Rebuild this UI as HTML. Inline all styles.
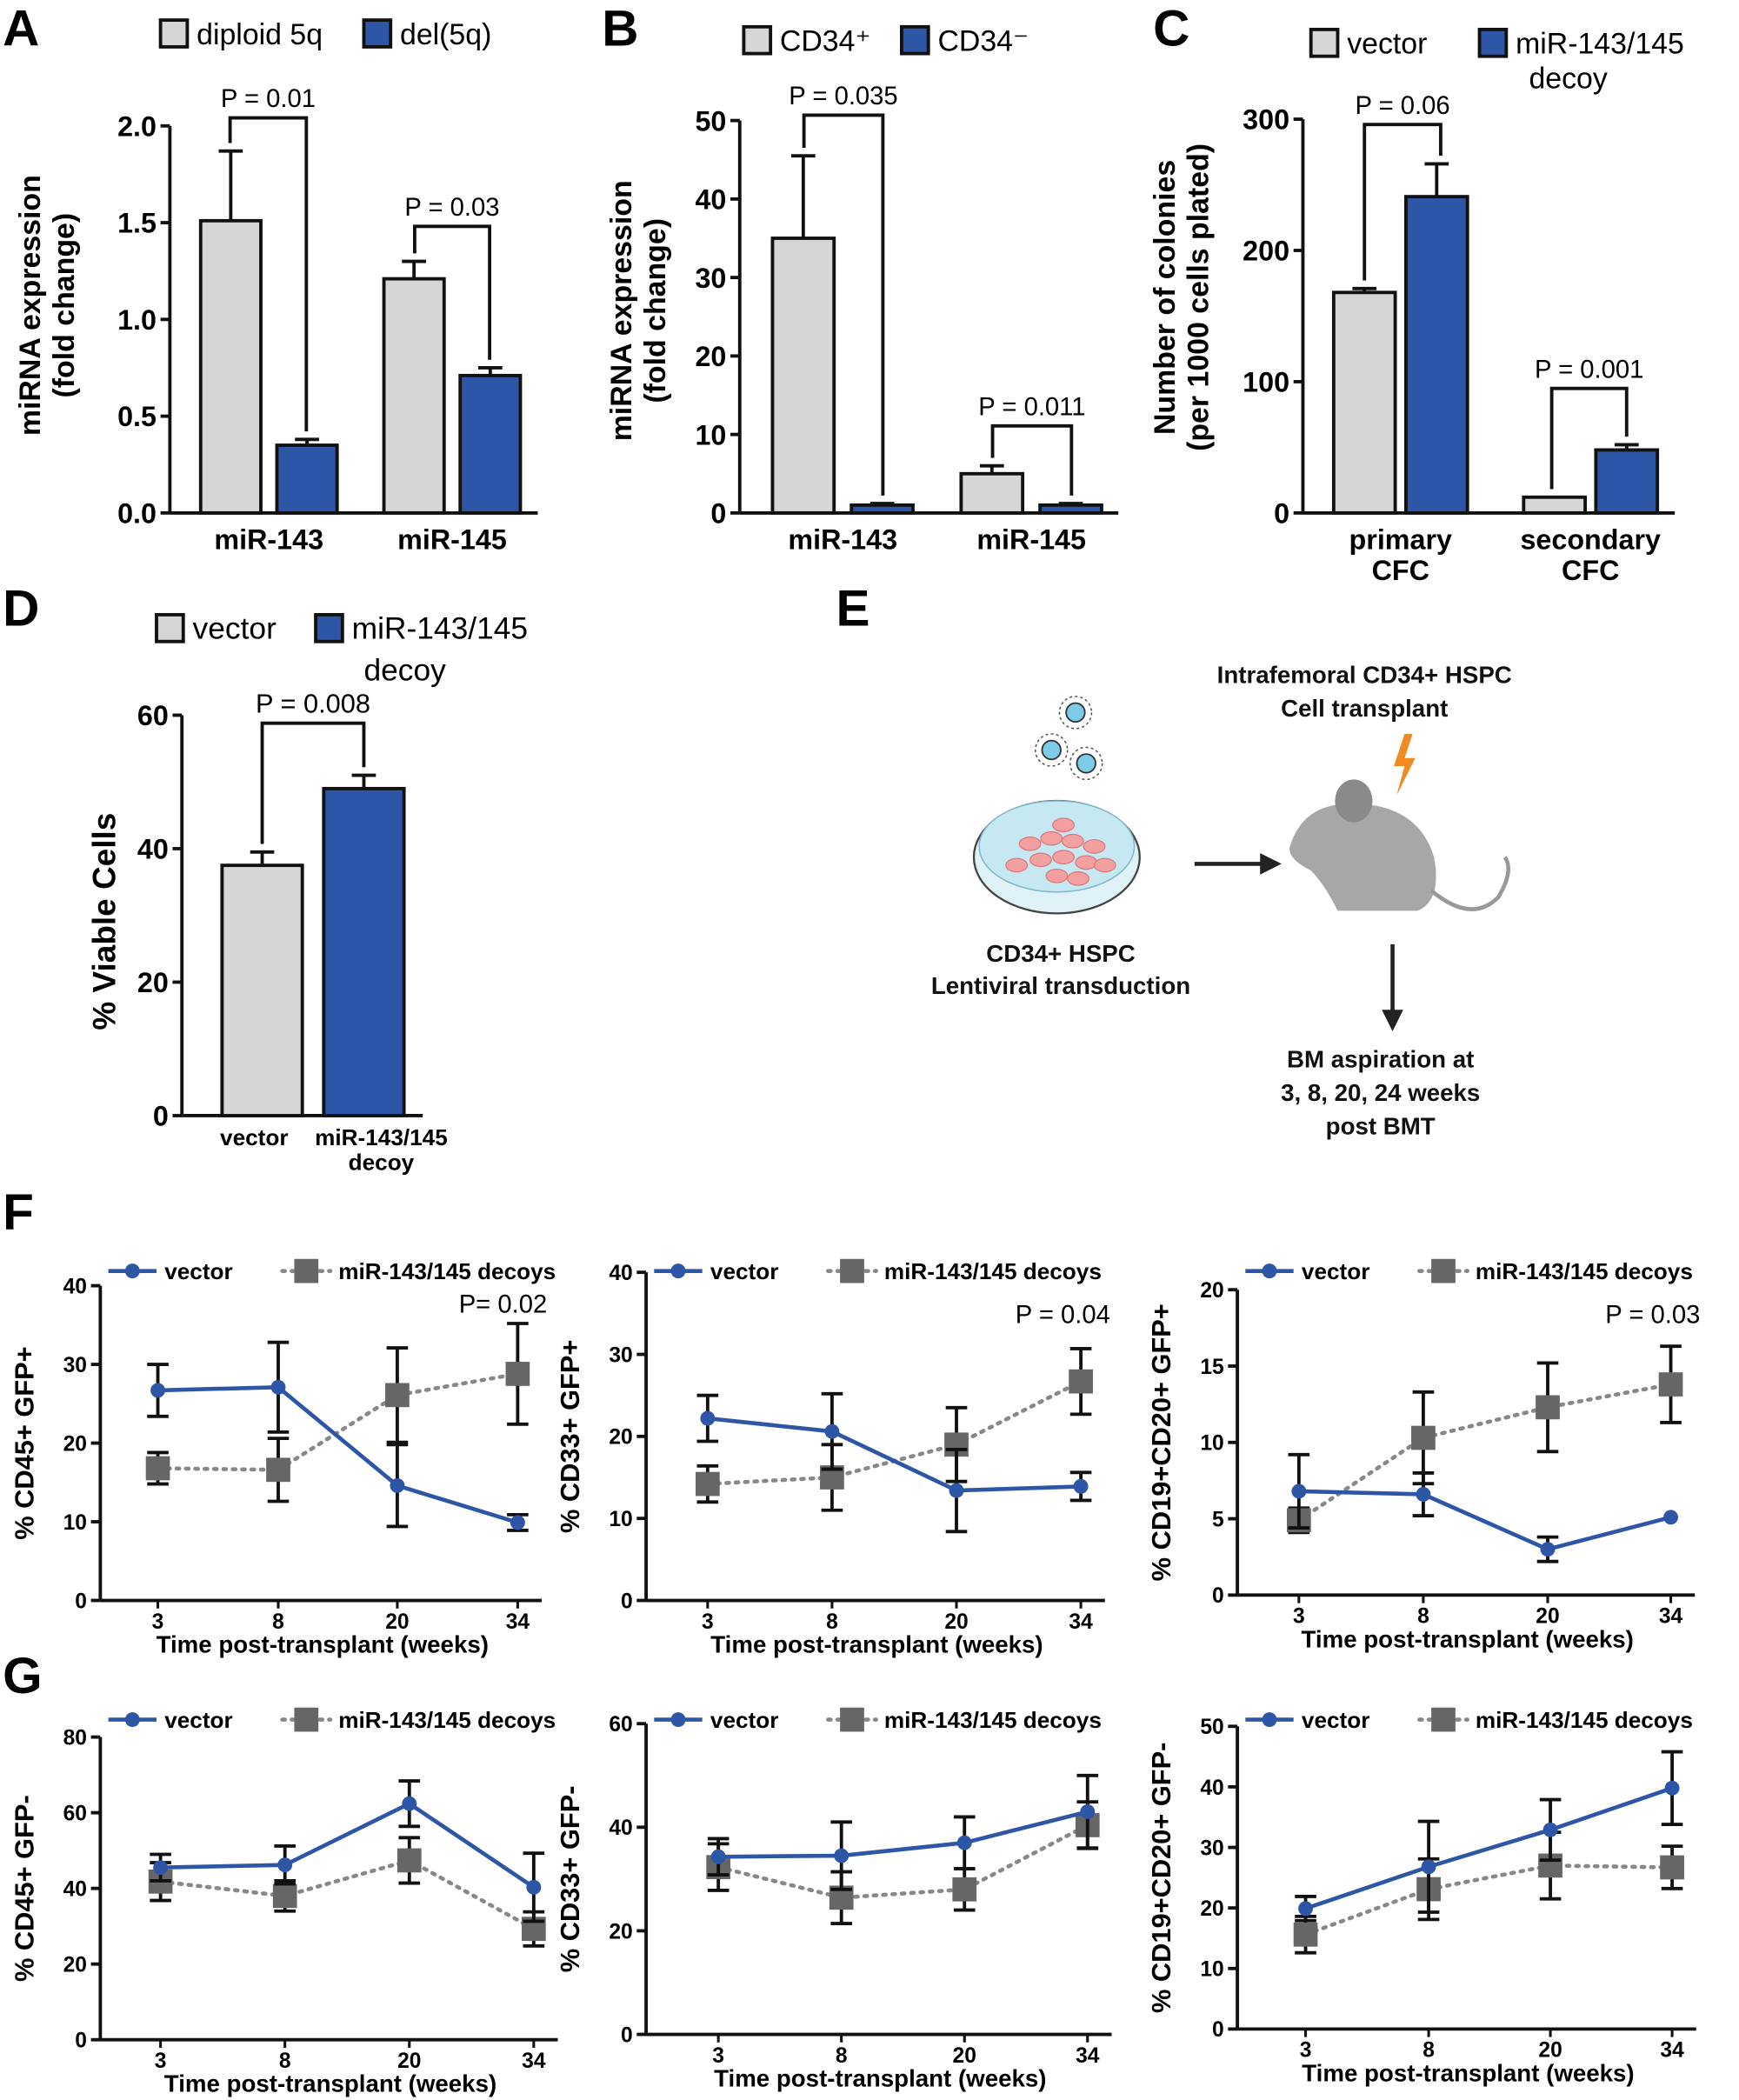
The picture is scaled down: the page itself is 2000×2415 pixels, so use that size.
<!DOCTYPE html>
<html><head><meta charset="utf-8">
<style>
html,body{margin:0;padding:0;background:#fff;}
svg{display:block;font-family:"Liberation Sans",Arial,sans-serif;}
.b{font-weight:bold;}
</style></head>
<body>
<svg id="fig" width="2000" height="2415" viewBox="0 0 1300 1568" preserveAspectRatio="none" xmlns="http://www.w3.org/2000/svg">
<g id="static">
<text x="2" y="34" font-size="38" class="b">A</text>
<text x="450" y="34" font-size="38" class="b">B</text>
<text x="862" y="34" font-size="38" class="b">C</text>
<text x="2" y="467" font-size="38" class="b">D</text>
<text x="625" y="467" font-size="38" class="b">E</text>
<text x="2" y="918" font-size="38" class="b">F</text>
<text x="2" y="1264" font-size="38" class="b">G</text>
<g>
<ellipse cx="790" cy="640" rx="62" ry="42" fill="#dff2f8" stroke="#444" stroke-width="1.5"/>
<ellipse cx="790" cy="632" rx="58" ry="34" fill="#c5e8f3" stroke="#7fb9cc" stroke-width="1"/>
<g fill="#f2a0a0" stroke="#d77" stroke-width="0.8">
<ellipse cx="770" cy="630" rx="8" ry="5"/><ellipse cx="786" cy="626" rx="8" ry="5"/><ellipse cx="802" cy="628" rx="8" ry="5"/><ellipse cx="818" cy="632" rx="8" ry="5"/><ellipse cx="778" cy="642" rx="8" ry="5"/><ellipse cx="795" cy="640" rx="8" ry="5"/><ellipse cx="812" cy="644" rx="8" ry="5"/><ellipse cx="760" cy="646" rx="8" ry="5"/><ellipse cx="790" cy="654" rx="8" ry="5"/><ellipse cx="806" cy="656" rx="8" ry="5"/><ellipse cx="826" cy="646" rx="8" ry="5"/><ellipse cx="795" cy="616" rx="8" ry="5"/>
</g>
<g fill="#7ccbe8" stroke="#333" stroke-width="1.2">
<circle cx="804" cy="532" r="7"/><circle cx="786" cy="560" r="7"/><circle cx="812" cy="570" r="7"/>
</g>
<g stroke="#555" stroke-width="1" stroke-dasharray="2 2" fill="none">
<circle cx="804" cy="532" r="12"/><circle cx="786" cy="560" r="12"/><circle cx="812" cy="570" r="12"/>
</g>
<line x1="893" y1="645" x2="945" y2="645" stroke="#222" stroke-width="3"/>
<polygon points="958,645 942,637 942,653" fill="#222"/>
<path d="M965,630 Q975,600 1010,600 Q1060,600 1072,640 Q1078,672 1060,680 L1000,680 Q990,660 980,650 Q960,640 965,630 Z" fill="#a7a7a7"/>
<ellipse cx="1012" cy="598" rx="14" ry="16" fill="#8a8a8a"/>
<path d="M1070,665 Q1100,690 1120,670 Q1132,650 1125,640" fill="none" stroke="#999" stroke-width="3"/>
<polygon points="1050,548 1042,572 1050,572 1044,594 1058,566 1050,566 1056,548" fill="#f08a24"/>
<line x1="1041" y1="705" x2="1041" y2="758" stroke="#222" stroke-width="3"/>
<polygon points="1041,770 1033,754 1049,754" fill="#222"/>
<g font-size="18" class="b" text-anchor="middle" fill="#111">
<text x="1020" y="510">Intrafemoral CD34+ HSPC</text>
<text x="1020" y="535">Cell transplant</text>
<text x="793" y="718">CD34+ HSPC</text>
<text x="793" y="742">Lentiviral transduction</text>
<text x="1032" y="797">BM aspiration at</text>
<text x="1032" y="822">3, 8, 20, 24 weeks</text>
<text x="1032" y="847">post BMT</text>
</g>
</g>
</g>
<g id="charts"></g>
</svg>
<script>
// ===== Data =====
const barGroupsA=["miR-143","miR-145"];
const barSeriesA=["diploid 5q","del(5q)"];
const barValsA1=[1.51,1.21];
const barValsA2=[0.35,0.71];
const barErrA1=[0.36,0.09];
const barErrA2=[0.03,0.04];
const ticksA=["0.0","0.5","1.0","1.5","2.0"];

const barGroupsB=["miR-143","miR-145"];
const barValsB1=[35,5];
const barValsB2=[1,1];
const barErrB1=[10.5,1];
const barErrB2=[0.2,0.2];
const ticksB=["0","10","20","30","40","50"];

const barGroupsC=["primary|CFC","secondary|CFC"];
const barValsC1=[168,12];
const barValsC2=[241,48];
const barErrC1=[3,0];
const barErrC2=[25,4];
const ticksC=["0","100","200","300"];

const barGroupsD=["vector","miR-143/145|decoy"];
const barValsD=[37.5,49];
const barErrD=[2,2];
const ticksD=["0","20","40","60"];

const weeks=["3","8","20","34"];
const fVec1=[26.7,27.1,14.6,9.9], fVec1E=[3.3,5.7,5.2,1], fDec1=[16.8,16.6,26.1,28.8], fDec1E=[2,4,6,6.4];
const fVec2=[22.2,20.6,13.4,13.9], fVec2E=[2.8,4.6,5,1.7], fDec2=[14.2,15,19,26.7], fDec2E=[2.2,4,4.5,4];
const fVec3=[6.8,6.6,3,5.1], fVec3E=[2.4,1.4,0.8,0.2], fDec3=[4.9,10.3,12.3,13.8], fDec3E=[0.8,3,2.9,2.5];
const gVec1=[45.5,46.2,62.4,40.3], gVec1E=[3.5,5,6,9], gDec1=[41.8,38,47.4,29.3], gDec1E=[5,4,6,4.5];
const gVec2=[34.3,34.5,37,43], gVec2E=[3.5,6.5,5,7], gDec2=[32.3,26.4,28,40.4], gDec2E=[4.5,5,4,4.5];
const gVec3=[19.9,26.8,32.9,39.8], gVec3E=[2,7.5,5,6], gDec3=[15.6,23.1,27,26.7], gDec3E=[3,5,5.5,3.5];

// ===== Helpers =====
const NS="http://www.w3.org/2000/svg";
const root=document.getElementById('charts');
function mk(tag,attrs,parent,text){const e=document.createElementNS(NS,tag);for(const k in attrs)e.setAttribute(k,attrs[k]);if(text!==undefined)e.textContent=text;(parent||root).appendChild(e);return e;}
const GREY="#d6d6d6", BLUE="#2e56a6", DGREY="#666";

function yAxis(g,x,y0,y1,ticks,vmax,fs,title,tx,ty,tfs){
  const l=mk('line',{x1:x,y1:y0,x2:x,y2:y1,stroke:'#111','stroke-width':2.5},g);
  
  
  ticks.forEach(t=>{const v=parseFloat(t);const y=y0-(y0-y1)*v/vmax;
    mk('line',{x1:x-7,y1:y,x2:x,y2:y,stroke:'#111','stroke-width':2.5},g);
    const tt=mk('text',{x:x-10,y:y+fs*0.36,'font-size':fs,'text-anchor':'end','font-weight':'bold'},g,t);
    
    
  });
  title.forEach((line,i)=>{const t=mk('text',{x:0,y:0,'font-size':tfs,'font-weight':'bold','text-anchor':'middle',transform:`translate(${tx+i*tfs*1.15},${ty}) rotate(-90)`},g,line);
    
    });
}
function bar(g,x,w,y0,scale,v,err,fill,name){
  const y=y0-v*scale;
  if(err>0){mk('line',{x1:x+w/2,y1:y,x2:x+w/2,y2:y-err*scale,stroke:'#111','stroke-width':2.5},g);
    mk('line',{x1:x+w/2-9,y1:y-err*scale,x2:x+w/2+9,y2:y-err*scale,stroke:'#111','stroke-width':2.5},g);}
  const r=mk('rect',{x:x,y:y,width:w,height:v*scale,fill:fill,stroke:'#111','stroke-width':2.5},g);
  
  
}
function bracket(g,x1,x2,ya,yb,ytop,label,fs){
  mk('polyline',{points:`${x1},${ya} ${x1},${ytop} ${x2},${ytop} ${x2},${yb}`,fill:'none',stroke:'#111','stroke-width':2.5},g);
  const t=mk('text',{x:(x1+x2)/2,y:ytop-8,'font-size':fs,'text-anchor':'middle'},g,label);
  
  
}
function legendBox(g,x,y,fill,label,fs){
  const r=mk('rect',{x:x,y:y,width:20,height:20,fill:fill,stroke:'#111','stroke-width':2.5},g);
  
  
  const t=mk('text',{x:x+27,y:y+18,'font-size':fs},g,label);
  
  
}
function barChart(cfg){
  const g=mk('g',{});
  
  
  const sc=(cfg.y0-cfg.y1)/cfg.vmax;
  yAxis(g,cfg.ax,cfg.y0,cfg.y1,cfg.ticks,cfg.vmax,cfg.tfs,cfg.title,cfg.tx,cfg.ty,cfg.titleFs);
  const xl=mk('line',{x1:cfg.ax,y1:cfg.y0,x2:cfg.axEnd,y2:cfg.y0,stroke:'#111','stroke-width':2.5},g);
  
  
  cfg.groups.forEach((grp,i)=>{
    const cx=cfg.gx[i];
    if(cfg.v2){bar(g,cx-cfg.bw-cfg.gap/2,cfg.bw,cfg.y0,sc,cfg.v1[i],cfg.e1[i],GREY,'bar-'+i+'-grey');
      bar(g,cx+cfg.gap/2,cfg.bw,cfg.y0,sc,cfg.v2[i],cfg.e2[i],BLUE,'bar-'+i+'-blue');}
    else{bar(g,cx-cfg.bw/2,cfg.bw,cfg.y0,sc,cfg.v1[i],cfg.e1[i],i?BLUE:GREY,'bar-'+i);}
    const lx=cfg.lx?cfg.lx[i]:cx;
    grp.split('|').forEach((ln,j)=>{const t=mk('text',{x:lx,y:cfg.y0+cfg.lblDy+j*cfg.lblFs*1.1,'font-size':cfg.lblFs,'font-weight':'bold','text-anchor':'middle'},g,ln);
      
      });
  });
  return {g,sc};
}

// ===== Panel A =====
(function(){
 const c=barChart({name:'chart-a',ax:127,axEnd:402,y0:383,y1:94,vmax:2,ticks:ticksA,tfs:21,title:['miRNA expression','(fold change)'],tx:30,ty:228,titleFs:22,
   groups:barGroupsA,gx:[201,338],bw:45,gap:12,v1:barValsA1,v2:barValsA2,e1:barErrA1,e2:barErrA2,lblFs:21,lblDy:27});
 const s=c.sc,y0=383;
 bracket(c.g,172,229,y0-(barValsA1[0]+barErrA1[0])*s-6,y0-(barValsA2[0]+barErrA2[0])*s-6,88,'P = 0.01',19);
 bracket(c.g,310,366,y0-(barValsA1[1]+barErrA1[1])*s-6,y0-(barValsA2[1]+barErrA2[1])*s-6,169,'P = 0.03',19);
 legendBox(c.g,120,15,GREY,'diploid 5q',22);legendBox(c.g,272,15,BLUE,'del(5q)',22);
})();
// ===== Panel B =====
(function(){
 const c=barChart({name:'chart-b',ax:553,axEnd:836,y0:383,y1:90,vmax:50,ticks:ticksB,tfs:21,title:['miRNA  expression','(fold  change)'],tx:472,ty:232,titleFs:22,
   groups:barGroupsB,gx:[630,771],bw:46,gap:13,v1:barValsB1,v2:barValsB2,e1:barErrB1,e2:barErrB2,lblFs:21,lblDy:27});
 const s=c.sc,y0=383;
 bracket(c.g,601,660,y0-(barValsB1[0]+barErrB1[0])*s-6,y0-(barValsB2[0]+barErrB2[0])*s-6,86,'P = 0.035',19);
 bracket(c.g,742,801,y0-(barValsB1[1]+barErrB1[1])*s-6,y0-(barValsB2[1]+barErrB2[1])*s-6,318,'P = 0.011',19);
 legendBox(c.g,556,20,GREY,'CD34⁺',22);legendBox(c.g,674,20,BLUE,'CD34⁻',22);
})();
// ===== Panel C =====
(function(){
 const c=barChart({name:'chart-c',ax:974,axEnd:1252,y0:383,y1:89,vmax:300,ticks:ticksC,tfs:21,title:['Number of colonies','(per 1000 cells plated)'],tx:878,ty:222,titleFs:22,
   groups:barGroupsC,gx:[1047,1189],bw:46,gap:8,v1:barValsC1,v2:barValsC2,e1:barErrC1,e2:barErrC2,lblFs:21,lblDy:27});
 const s=c.sc,y0=383;
 bracket(c.g,1020,1077,y0-(barValsC1[0]+barErrC1[0])*s-6,y0-(barValsC2[0]+barErrC2[0])*s-6,93,'P = 0.06',19);
 bracket(c.g,1160,1216,y0-(barValsC1[1]+barErrC1[1])*s-6,y0-(barValsC2[1]+barErrC2[1])*s-6,290,'P = 0.001',19);
 legendBox(c.g,980,22,GREY,'vector',22);
 legendBox(c.g,1106,22,BLUE,'miR-143/145',22);
 const t=mk('text',{x:1143,y:66,'font-size':22},c.g,'decoy');
 
 
})();
// ===== Panel D =====
(function(){
 const c=barChart({name:'chart-d',ax:136,axEnd:316,y0:833,y1:534,vmax:60,ticks:ticksD,tfs:21,title:['% Viable Cells'],tx:86,ty:688,titleFs:24,
   groups:barGroupsD,gx:[196,272],lx:[190,285],bw:60,gap:0,v1:barValsD,e1:barErrD,lblFs:17,lblDy:22});
 const s=c.sc,y0=833;
 bracket(c.g,196,272,y0-(barValsD[0]+barErrD[0])*s-6,y0-(barValsD[1]+barErrD[1])*s-6,540,'P = 0.008',20);
 legendBox(c.g,117,459,GREY,'vector',23);legendBox(c.g,236,459,BLUE,'miR-143/145',23);
 const t=mk('text',{x:272,y:508,'font-size':23},c.g,'decoy');
 
 
})();

// ===== Line charts =====
function lineChart(cfg){
  const g=mk('g',{});
  
  
  const sy=v=>cfg.y0-(cfg.y0-cfg.y1)*v/cfg.vmax;
  const ticks=[];for(let v=0;v<=cfg.vmax;v+=cfg.step)ticks.push(String(v));
  yAxis(g,cfg.ax,cfg.y0,cfg.y1,ticks,cfg.vmax,16,[cfg.title],cfg.ax-50,(cfg.y0+cfg.y1)/2,20);
  const xl=mk('line',{x1:cfg.ax,y1:cfg.y0,x2:cfg.xs[3]+18,y2:cfg.y0,stroke:'#111','stroke-width':2.5},g);
  
  
  weeks.forEach((w,i)=>{mk('line',{x1:cfg.xs[i],y1:cfg.y0,x2:cfg.xs[i],y2:cfg.y0+6,stroke:'#111','stroke-width':2},g);
    const t=mk('text',{x:cfg.xs[i],y:cfg.y0+21,'font-size':16,'font-weight':'bold','text-anchor':'middle'},g,w);
    
    });
  const xt=mk('text',{x:(cfg.ax+cfg.xs[3])/2+10,y:cfg.y0+39,'font-size':18,'font-weight':'bold','text-anchor':'middle'},g,'Time post-transplant (weeks)');
  
  
  function series(vals,errs,color,dash,marker,name){
    const pts=vals.map((v,i)=>`${cfg.xs[i]},${sy(v)}`).join(' ');
    const pl=mk('polyline',{points:pts,fill:'none',stroke:color,'stroke-width':3,'stroke-dasharray':dash?'2 5':'none','stroke-linecap':'round'},g);
    
    
    vals.forEach((v,i)=>{const x=cfg.xs[i];
      if(errs[i]>0.3){mk('line',{x1:x,y1:sy(v-errs[i]),x2:x,y2:sy(v+errs[i]),stroke:'#111','stroke-width':2.5},g);
      mk('line',{x1:x-8,y1:sy(v+errs[i]),x2:x+8,y2:sy(v+errs[i]),stroke:'#111','stroke-width':2.5},g);
      mk('line',{x1:x-8,y1:sy(v-errs[i]),x2:x+8,y2:sy(v-errs[i]),stroke:'#111','stroke-width':2.5},g);}
      let m;
      if(marker==='sq'){m=mk('rect',{x:x-9,y:sy(v)-9,width:18,height:18,fill:DGREY},g);}
      else{m=mk('circle',{cx:x,cy:sy(v),r:5.5,fill:color},g);}
      
      
    });
  }
  series(cfg.dec,cfg.decE,'#888',true,'sq','decoy');
  series(cfg.vec,cfg.vecE,BLUE,false,'c','vector');
  const lx=cfg.ax+6, ly=cfg.legY;
  mk('line',{x1:lx,y1:ly,x2:lx+36,y2:ly,stroke:BLUE,'stroke-width':3},g);
  mk('circle',{cx:lx+18,cy:ly,r:5.5,fill:BLUE},g);
  const l1=mk('text',{x:lx+42,y:ly+6,'font-size':17,'font-weight':'bold'},g,'vector');
  
  
  mk('line',{x1:lx+130,y1:ly,x2:lx+166,y2:ly,stroke:'#888','stroke-width':3,'stroke-dasharray':'2 5','stroke-linecap':'round'},g);
  mk('rect',{x:lx+139,y:ly-9,width:18,height:18,fill:DGREY},g);
  const l2=mk('text',{x:lx+172,y:ly+6,'font-size':17,'font-weight':'bold'},g,'miR-143/145 decoys');
  
  
  if(cfg.p){const t=mk('text',{x:cfg.xs[3]+22,y:cfg.pY,'font-size':19,'text-anchor':'end'},g,cfg.p);
    
    }
}
lineChart({name:'chart-f1',ax:75,y0:1195,y1:960,vmax:40,step:10,xs:[118,208,297,387],title:'% CD45+ GFP+',vec:fVec1,vecE:fVec1E,dec:fDec1,decE:fDec1E,legY:949,p:'P= 0.02',pY:980});
lineChart({name:'chart-f2',ax:483,y0:1195,y1:950,vmax:40,step:10,xs:[529,622,715,808],title:'% CD33+ GFP+',vec:fVec2,vecE:fVec2E,dec:fDec2,decE:fDec2E,legY:949,p:'P = 0.04',pY:988});
lineChart({name:'chart-f3',ax:925,y0:1191,y1:963,vmax:20,step:5,xs:[971,1064,1157,1249],title:'% CD19+CD20+ GFP+',vec:fVec3,vecE:fVec3E,dec:fDec3,decE:fDec3E,legY:949,p:'P = 0.03',pY:988});
lineChart({name:'chart-g1',ax:75,y0:1523,y1:1297,vmax:80,step:20,xs:[120,213,306,399],title:'% CD45+ GFP-',vec:gVec1,vecE:gVec1E,dec:gDec1,decE:gDec1E,legY:1284});
lineChart({name:'chart-g2',ax:483,y0:1519,y1:1287,vmax:60,step:20,xs:[537,629,721,813],title:'% CD33+ GFP-',vec:gVec2,vecE:gVec2E,dec:gDec2,decE:gDec2E,legY:1284});
lineChart({name:'chart-g3',ax:925,y0:1515,y1:1289,vmax:50,step:10,xs:[976,1068,1159,1250],title:'% CD19+CD20+ GFP-',vec:gVec3,vecE:gVec3E,dec:gDec3,decE:gDec3E,legY:1284});
</script>
</body></html>
